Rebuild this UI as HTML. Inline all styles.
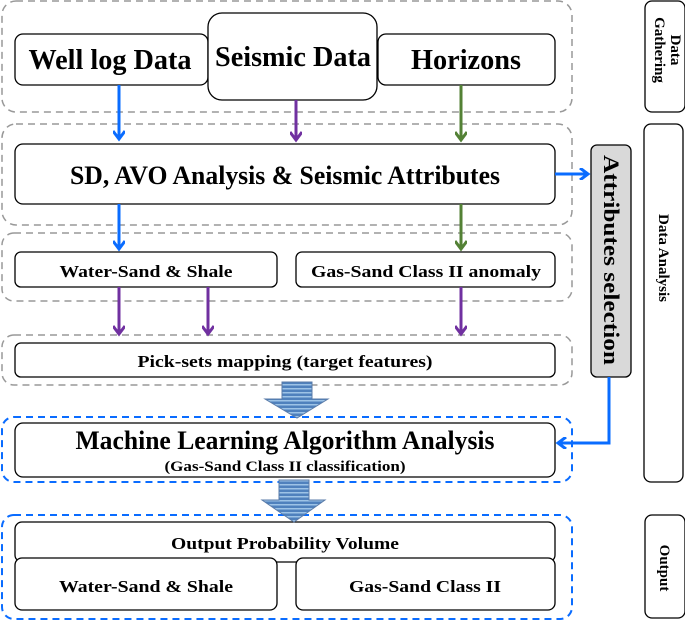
<!DOCTYPE html>
<html><head><style>html,body{margin:0;padding:0;background:#fff}svg{display:block}</style></head>
<body>
<svg width="685" height="621" viewBox="0 0 685 621" xmlns="http://www.w3.org/2000/svg" font-family="Liberation Serif, serif" font-weight="bold">
<defs>
<marker id="ab" markerWidth="12" markerHeight="12" refX="8" refY="6" orient="auto" markerUnits="userSpaceOnUse"><path d="M1,0 L9,6 L1,12" fill="none" stroke="#0a6cff" stroke-width="3"/></marker>
<marker id="ap" markerWidth="12" markerHeight="12" refX="8" refY="6" orient="auto" markerUnits="userSpaceOnUse"><path d="M1,0 L9,6 L1,12" fill="none" stroke="#7030a0" stroke-width="3"/></marker>
<marker id="ag" markerWidth="12" markerHeight="12" refX="8" refY="6" orient="auto" markerUnits="userSpaceOnUse"><path d="M1,0 L9,6 L1,12" fill="none" stroke="#538135" stroke-width="3"/></marker>
<pattern id="st" width="4" height="4" patternUnits="userSpaceOnUse"><rect width="4" height="4" fill="#4f81bd"/><rect width="4" height="1.5" fill="#9dc3e6"/></pattern>
</defs>
<g fill="none" stroke="#999" stroke-width="1.5" stroke-dasharray="7,5">
<rect x="2" y="1" width="570" height="111" rx="14"/>
<rect x="2" y="124" width="570" height="101" rx="14"/>
<rect x="2" y="233" width="570" height="68" rx="12"/>
<rect x="2" y="335" width="570" height="50" rx="12"/>
</g>
<g fill="none" stroke="#0a6cff" stroke-width="2" stroke-dasharray="7,5">
<rect x="2" y="417" width="570" height="65" rx="12"/>
<rect x="2" y="515" width="570" height="104" rx="12"/>
</g>
<g fill="#fff" stroke="#000" stroke-width="1.3">
<rect x="15" y="34" width="193" height="51" rx="8"/>
<rect x="378" y="34" width="177" height="51" rx="8"/>
<rect x="208" y="13" width="169" height="87" rx="14"/>
<rect x="15" y="144" width="540" height="60" rx="8"/>
<rect x="15" y="252" width="262" height="35" rx="6"/>
<rect x="296" y="252" width="259" height="35" rx="6"/>
<rect x="15" y="343" width="540" height="34" rx="6"/>
<rect x="15" y="423" width="540" height="54" rx="8"/>
<rect x="15" y="522" width="540" height="40" rx="7"/>
<rect x="15" y="558" width="262" height="52" rx="7"/>
<rect x="296" y="558" width="259" height="52" rx="7"/>
<rect x="645" y="1" width="40" height="111" rx="7"/>
<rect x="644" y="124" width="39" height="358" rx="7"/>
<rect x="645" y="515" width="40" height="103" rx="7"/>
</g>
<rect x="591" y="145" width="40" height="232" rx="6" fill="#d9d9d9" stroke="#000" stroke-width="1.3"/>
<g stroke-width="3" fill="none">
<line x1="119" y1="85" x2="119" y2="138" stroke="#0a6cff" marker-end="url(#ab)"/>
<line x1="296" y1="100" x2="296" y2="139" stroke="#7030a0" marker-end="url(#ap)"/>
<line x1="461" y1="85" x2="461" y2="139" stroke="#538135" marker-end="url(#ag)"/>
<line x1="555" y1="174" x2="587" y2="174" stroke="#0a6cff" marker-end="url(#ab)"/>
<line x1="119" y1="204" x2="119" y2="248" stroke="#0a6cff" marker-end="url(#ab)"/>
<line x1="461" y1="204" x2="461" y2="248" stroke="#538135" marker-end="url(#ag)"/>
<line x1="119" y1="287" x2="119" y2="333" stroke="#7030a0" marker-end="url(#ap)"/>
<line x1="208" y1="287" x2="208" y2="333" stroke="#7030a0" marker-end="url(#ap)"/>
<line x1="461" y1="287" x2="461" y2="333" stroke="#7030a0" marker-end="url(#ap)"/>
<polyline points="609,377 609,443 559,443" stroke="#0a6cff" marker-end="url(#ab)"/>
</g>
<path d="M282,382 H312 V399 H328 L297,418 L265,399 H282 Z" fill="url(#st)" stroke="#5a7ba8" stroke-width="1"/>
<path d="M279,480 H309 V500 H325 L294,522 L262,500 H279 Z" fill="url(#st)" stroke="#5a7ba8" stroke-width="1"/>
<g fill="#000" text-anchor="middle">
<text x="110" y="69" font-size="28" textLength="163" lengthAdjust="spacingAndGlyphs">Well log Data</text>
<text x="293" y="66" font-size="28" textLength="156" lengthAdjust="spacingAndGlyphs">Seismic Data</text>
<text x="466" y="69" font-size="28" textLength="110" lengthAdjust="spacingAndGlyphs">Horizons</text>
<text x="285" y="184" font-size="26" textLength="430" lengthAdjust="spacingAndGlyphs">SD, AVO Analysis &amp; Seismic Attributes</text>
<text x="146" y="277" font-size="17" textLength="173" lengthAdjust="spacingAndGlyphs">Water-Sand &amp; Shale</text>
<text x="426" y="277" font-size="17" textLength="230" lengthAdjust="spacingAndGlyphs">Gas-Sand Class II anomaly</text>
<text x="285" y="367" font-size="17" textLength="295" lengthAdjust="spacingAndGlyphs">Pick-sets mapping (target features)</text>
<text x="285" y="449" font-size="26" textLength="419" lengthAdjust="spacingAndGlyphs">Machine Learning Algorithm Analysis</text>
<text x="285" y="471" font-size="15" textLength="241" lengthAdjust="spacingAndGlyphs">(Gas-Sand Class II classification)</text>
<text x="285" y="549" font-size="17" textLength="228" lengthAdjust="spacingAndGlyphs">Output Probability Volume</text>
<text x="146" y="592" font-size="17" textLength="174" lengthAdjust="spacingAndGlyphs">Water-Sand &amp; Shale</text>
<text x="425" y="592" font-size="17" textLength="152" lengthAdjust="spacingAndGlyphs">Gas-Sand Class II</text>
<text transform="translate(604,260) rotate(90)" font-size="22" textLength="210" lengthAdjust="spacingAndGlyphs">Attributes selection</text>
<text transform="translate(671,50) rotate(90)" font-size="15">Data</text>
<text transform="translate(655,50) rotate(90)" font-size="15">Gathering</text>
<text transform="translate(659,258) rotate(90)" font-size="15">Data Analysis</text>
<text transform="translate(660,568) rotate(90)" font-size="15">Output</text>
</g>
</svg>
</body></html>
